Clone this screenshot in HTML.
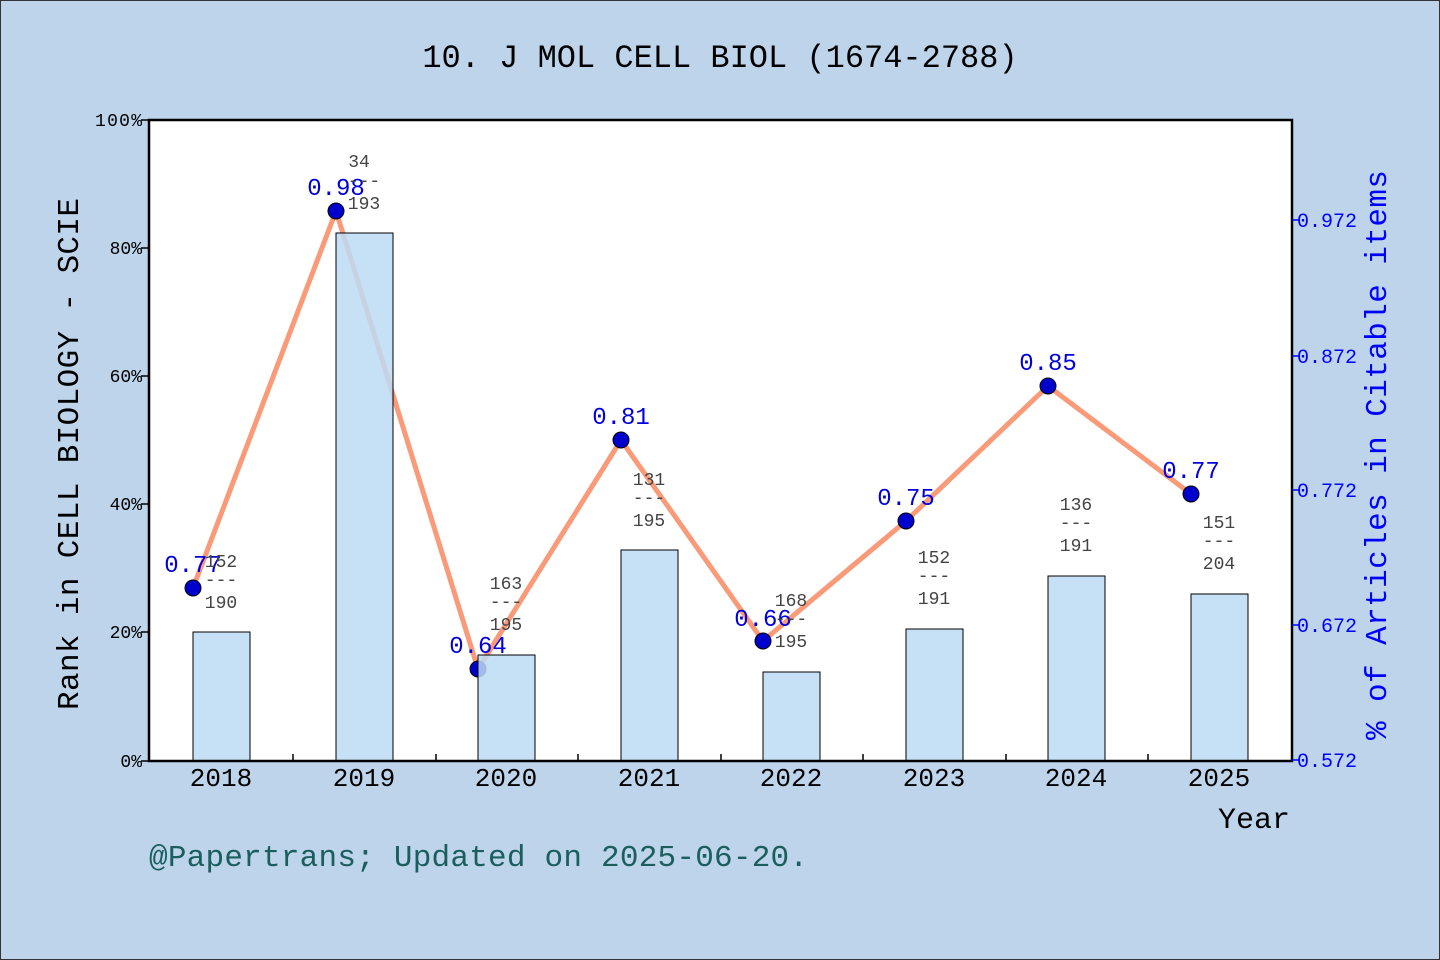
<!DOCTYPE html>
<html><head><meta charset="utf-8"><style>
html,body{margin:0;padding:0;background:#bdd4eb;}
svg{display:block;}
text{font-family:"Liberation Mono",monospace;}
</style></head><body>
<svg width="1440" height="960" viewBox="0 0 1440 960" xmlns="http://www.w3.org/2000/svg">
<rect x="0.5" y="0.5" width="1439" height="959" fill="#bdd4eb" stroke="#333" stroke-width="1"/>
<text x="720" y="67" font-size="32" text-anchor="middle" fill="#000">10. J MOL CELL BIOL (1674-2788)</text>
<rect x="149" y="120" width="1143" height="641" fill="#fff"/>
<polyline points="193,588 336,211 478,669 621,440 763,641 906,521 1048,386 1191,494" fill="none" stroke="#fa9a78" stroke-width="5" stroke-linejoin="round"/>
<g fill="#0000cc" stroke="#000" stroke-width="1">
<circle cx="193" cy="588" r="8"/><circle cx="336" cy="211" r="8"/><circle cx="478" cy="669" r="8"/><circle cx="621" cy="440" r="8"/><circle cx="763" cy="641" r="8"/><circle cx="906" cy="521" r="8"/><circle cx="1048" cy="386" r="8"/><circle cx="1191" cy="494" r="8"/>
</g>
<g fill="#bcdcf5" fill-opacity="0.85" stroke="#000" stroke-width="1">
<rect x="193" y="632" width="57" height="129"/>
<rect x="336" y="233" width="57" height="528"/>
<rect x="478" y="655" width="57" height="106"/>
<rect x="621" y="550" width="57" height="211"/>
<rect x="763" y="672" width="57" height="89"/>
<rect x="906" y="629" width="57" height="132"/>
<rect x="1048" y="576" width="57" height="185"/>
<rect x="1191" y="594" width="57" height="167"/>
</g>
<g fill="#0000dd" font-size="24" text-anchor="middle">
<text x="193" y="572">0.77</text><text x="336" y="195">0.98</text><text x="478" y="653">0.64</text><text x="621" y="424">0.81</text><text x="763" y="626">0.66</text><text x="906" y="505">0.75</text><text x="1048" y="370">0.85</text><text x="1191" y="478">0.77</text>
</g>
<g fill="#444" font-size="18" text-anchor="middle">
<text x="221" y="567">152</text><text x="221" y="585">---</text><text x="221" y="608">190</text>
<text x="359" y="167">34</text><text x="364" y="186">---</text><text x="364" y="209">193</text>
<text x="506" y="589">163</text><text x="506" y="607">---</text><text x="506" y="630">195</text>
<text x="649" y="485">131</text><text x="649" y="503">---</text><text x="649" y="526">195</text>
<text x="791" y="606">168</text><text x="791" y="624">---</text><text x="791" y="647">195</text>
<text x="934" y="563">152</text><text x="934" y="581">---</text><text x="934" y="604">191</text>
<text x="1076" y="510">136</text><text x="1076" y="528">---</text><text x="1076" y="551">191</text>
<text x="1219" y="528">151</text><text x="1219" y="546">---</text><text x="1219" y="569">204</text>
</g>
<rect x="149" y="120" width="1143" height="641" fill="none" stroke="#000" stroke-width="2.5"/>
<g stroke="#000" stroke-width="1.5">
<line x1="141" y1="120" x2="149" y2="120"/><line x1="141" y1="248" x2="149" y2="248"/><line x1="141" y1="376" x2="149" y2="376"/><line x1="141" y1="504" x2="149" y2="504"/><line x1="141" y1="632" x2="149" y2="632"/><line x1="141" y1="761" x2="149" y2="761"/>
<line x1="293" y1="754" x2="293" y2="761"/><line x1="436" y1="754" x2="436" y2="761"/><line x1="578" y1="754" x2="578" y2="761"/><line x1="721" y1="754" x2="721" y2="761"/><line x1="863" y1="754" x2="863" y2="761"/><line x1="1006" y1="754" x2="1006" y2="761"/><line x1="1148" y1="754" x2="1148" y2="761"/>
<line x1="1292" y1="220" x2="1299" y2="220" stroke="#00f"/><line x1="1292" y1="356" x2="1299" y2="356" stroke="#00f"/><line x1="1292" y1="490" x2="1299" y2="490" stroke="#00f"/><line x1="1292" y1="625" x2="1299" y2="625" stroke="#00f"/><line x1="1292" y1="760" x2="1299" y2="760" stroke="#00f"/>
</g>
<g font-size="18" text-anchor="end" fill="#000">
<text x="142" y="126" textLength="47">100%</text><text x="142" y="254">80%</text><text x="142" y="382">60%</text><text x="142" y="510">40%</text><text x="142" y="638">20%</text><text x="142" y="767">0%</text>
</g>
<g font-size="20" fill="#0000ff">
<text x="1297" y="227">0.972</text><text x="1297" y="363">0.872</text><text x="1297" y="497">0.772</text><text x="1297" y="632">0.672</text><text x="1297" y="767">0.572</text>
</g>
<g font-size="26" text-anchor="middle" fill="#000">
<text x="221" y="786">2018</text><text x="364" y="786">2019</text><text x="506" y="786">2020</text><text x="649" y="786">2021</text><text x="791" y="786">2022</text><text x="934" y="786">2023</text><text x="1076" y="786">2024</text><text x="1219" y="786">2025</text>
</g>
<text x="1290" y="828" font-size="30" text-anchor="end" fill="#000">Year</text>
<text transform="translate(78,454) rotate(-90)" font-size="31" text-anchor="middle" fill="#000" textLength="512">Rank in CELL BIOLOGY - SCIE</text>
<text transform="translate(1386,455) rotate(-90)" font-size="31" text-anchor="middle" fill="#0000ff" textLength="570">% of Articles in Citable items</text>
<text x="149" y="866" font-size="31" fill="#1a5e5e" textLength="659">@Papertrans; Updated on 2025-06-20.</text>
</svg>
</body></html>
